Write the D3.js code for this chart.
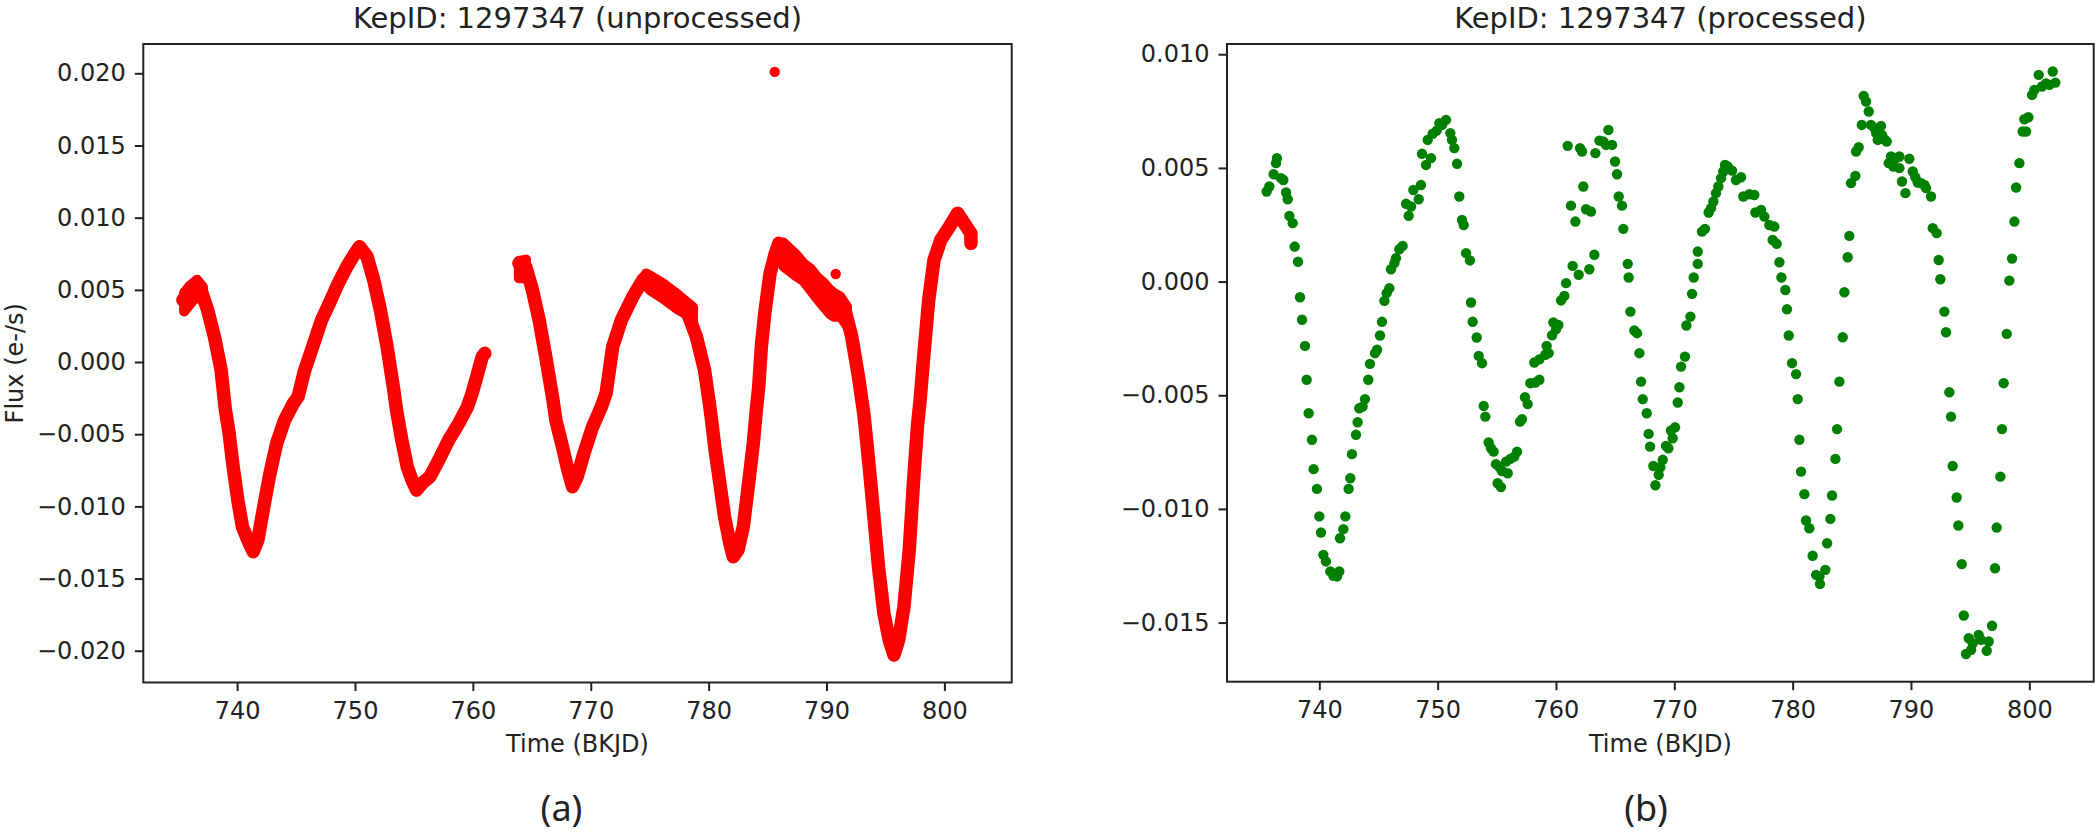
<!DOCTYPE html>
<html>
<head>
<meta charset="utf-8">
<script src="https://cdn.jsdelivr.net/npm/d3@7"></script>
<style>
  body { margin: 0; background: #fff; }
  svg text { font-family: "DejaVu Sans", sans-serif; fill: #222; }
</style>
</head>
<body>
<script>
// ---- data ----
// unprocessed light curve, traced as [time, flux] (two segments, gap ~761-764)
var rawSegA = [
  [735.40,0.00430],[735.97,0.00487],[736.54,0.00545],[736.93,0.00499],[737.50,0.00360],
  [738.07,0.00176],[738.64,-0.00055],[739.00,-0.00330],[739.30,-0.00480],[739.66,-0.00725],
  [740.06,-0.00956],[740.45,-0.01141],[741.02,-0.01256],[741.36,-0.01314],[741.76,-0.01233],
  [742.21,-0.01025],[742.73,-0.00794],[743.35,-0.00564],[744.03,-0.00402],[744.77,-0.00286],
  [745.17,-0.00240],[745.74,-0.00055],[746.31,0.00083],[747.16,0.00291],[747.89,0.00418],
  [748.58,0.00545],[749.31,0.00661],[750.00,0.00753],[750.39,0.00799],[751.02,0.00730],
  [751.59,0.00568],[752.15,0.00360],[752.72,0.00106],[753.29,-0.00194],[753.52,-0.00333],
  [753.97,-0.00540],[754.43,-0.00725],[754.83,-0.00817],[755.22,-0.00887],[755.68,-0.00841],
  [756.36,-0.00794],[757.10,-0.00679],[757.95,-0.00540],[758.80,-0.00425],[759.54,-0.00310],
  [759.93,-0.00217],[760.33,-0.00101],[760.79,0.00037],[761.01,0.00060]
];
var rawSegB = [
  [763.91,0.00684],[764.48,0.00661],[765.05,0.00499],[765.62,0.00291],[766.18,0.00037],
  [766.75,-0.00240],[767.04,-0.00402],[767.60,-0.00587],[768.06,-0.00748],[768.45,-0.00864],
  [768.85,-0.00794],[769.42,-0.00633],[770.16,-0.00448],[770.90,-0.00310],[771.30,-0.00217],
  [771.86,0.00106],[772.60,0.00291],[773.57,0.00453],[774.42,0.00568],[774.70,0.00591],
  [775.56,0.00522],[776.41,0.00476],[777.26,0.00407],[778.11,0.00360],[778.96,0.00176],
  [779.65,-0.00055],[780.10,-0.00309],[780.21,-0.00379],[780.55,-0.00610],[780.95,-0.00841],
  [781.35,-0.01072],[781.80,-0.01256],[782.09,-0.01349],[782.49,-0.01302],[782.94,-0.01141],
  [783.39,-0.00841],[783.79,-0.00564],[784.07,-0.00310],[784.25,-0.00171],[784.47,0.00106],
  [784.76,0.00337],[785.21,0.00614],[785.66,0.00753],[785.95,0.00822],[786.63,0.00730],
  [787.48,0.00661],[788.34,0.00591],[789.19,0.00499],[790.04,0.00407],[790.89,0.00407],
  [791.57,0.00360],[792.14,0.00176],[792.71,-0.00101],[793.16,-0.00356],[793.28,-0.00448],
  [793.62,-0.00725],[794.02,-0.01072],[794.41,-0.01418],[794.87,-0.01741],[795.32,-0.01926],
  [795.72,-0.02030],[796.12,-0.01926],[796.57,-0.01695],[797.02,-0.01302],[797.37,-0.00841],
  [797.71,-0.00448],[797.94,-0.00263],[798.27,0.00060],[798.67,0.00430],[799.12,0.00707],
  [799.69,0.00845],[800.43,0.00938],[801.12,0.01030],[801.68,0.00961],[802.25,0.00891],
  [802.25,0.00822]
];
// noisy stretches where the band widens: [time, lower flux, upper flux]
var rawSpreadA = [
  [735.50,0.00350,0.00480],[736.00,0.00400,0.00530],[736.60,0.00460,0.00570],[737.10,0.00420,0.00520]
];
var rawSpreadB = [
  [763.90,0.00580,0.00700],[764.50,0.00580,0.00710]
];
var rawSpreadC = [
  [774.70,0.00530,0.00614],[775.00,0.00499,0.00600],[776.12,0.00440,0.00545],
  [777.26,0.00370,0.00476],[778.11,0.00330,0.00418],[778.68,0.00291,0.00380]
];
var rawSpreadD = [
  [786.35,0.00661,0.00828],[787.48,0.00591,0.00740],[788.05,0.00560,0.00684],
  [788.62,0.00499,0.00650],[789.19,0.00440,0.00591],[789.76,0.00383,0.00550],
  [790.32,0.00330,0.00499],[790.61,0.00314,0.00480],[791.18,0.00314,0.00453],
  [791.74,0.00250,0.00383]
];
// loose points off the main band
var rawOutliers = [[785.61,0.02010],[790.78,0.00610]];

// processed (binned) light curve, [time, flux]
var procPoints = [
  [735.55,0.00396],[735.78,0.00418],[736.14,0.00472],[736.34,0.00521],[736.42,0.00543],
  [736.76,0.00455],[736.96,0.00447],[737.19,0.00392],[737.33,0.00362],[737.47,0.00289],
  [737.75,0.00257],[737.92,0.00154],[738.20,0.00087],[738.37,-0.00069],[738.54,-0.00168],
  [738.79,-0.00283],[738.93,-0.00432],[739.10,-0.00579],[739.38,-0.00696],[739.52,-0.00825],
  [739.80,-0.00912],[740.00,-0.01033],[740.14,-0.01104],[740.34,-0.01202],[740.56,-0.01231],
  [740.93,-0.01275],[741.19,-0.01294],[741.50,-0.01297],[741.69,-0.01275],[741.75,-0.01129],
  [742.03,-0.01089],[742.20,-0.01033],[742.48,-0.00912],[742.62,-0.00865],[742.76,-0.00759],
  [743.10,-0.00674],[743.24,-0.00619],[743.38,-0.00557],[743.66,-0.00550],[743.86,-0.00517],
  [744.14,-0.00432],[744.28,-0.00362],[744.71,-0.00315],[744.88,-0.00300],[745.13,-0.00237],
  [745.30,-0.00177],[745.50,-0.00085],[745.69,-0.00051],[745.92,-0.00029],[746.06,0.00054],
  [746.34,0.00081],[746.48,0.00103],[746.76,0.00142],[747.04,0.00157],[747.55,0.00289],
  [747.33,0.00342],[747.75,0.00330],[747.95,0.00403],[748.40,0.00362],[748.59,0.00425],
  [748.68,0.00562],[749.02,0.00513],[749.44,0.00543],[749.16,0.00623],[749.58,0.00650],
  [749.92,0.00664],[750.14,0.00697],[750.37,0.00689],[750.71,0.00711],[751.07,0.00653],
  [751.21,0.00623],[751.41,0.00587],[751.64,0.00518],[751.83,0.00374],[752.06,0.00271],
  [752.20,0.00249],[752.40,0.00125],[752.73,0.00093],[752.82,-0.00092],[752.96,-0.00177],
  [753.30,-0.00246],[753.47,-0.00327],[753.75,-0.00359],[753.89,-0.00547],[754.03,-0.00594],
  [754.31,-0.00708],[754.51,-0.00733],[754.73,-0.00748],[754.93,-0.00803],[755.21,-0.00816],
  [755.44,-0.00833],[755.92,-0.00843],[755.78,-0.00792],[756.14,-0.00780],[756.48,-0.00770],
  [755.07,-0.00887],[755.35,-0.00904],[756.71,-0.00748],[756.96,-0.00616],[757.13,-0.00605],
  [757.38,-0.00509],[757.61,-0.00539],[757.83,-0.00447],[758.26,-0.00444],[758.60,-0.00432],
  [758.17,-0.00356],[758.60,-0.00342],[759.10,-0.00322],[759.38,-0.00315],[759.21,-0.00283],
  [759.67,-0.00236],[759.78,-0.00180],[760.20,-0.00191],[760.00,-0.00210],[760.43,-0.00083],
  [760.71,-0.00063],[760.85,-0.00007],[761.41,0.00069],[761.92,0.00030],[762.82,0.00054],
  [763.24,0.00118],[761.27,0.00334],[761.64,0.00264],[762.54,0.00318],[762.96,0.00308],
  [762.31,0.00418],[760.99,0.00597],[762.03,0.00587],[762.20,0.00572],[763.33,0.00565],
  [763.67,0.00620],[764.00,0.00616],[764.23,0.00601],[764.74,0.00601],[764.43,0.00667],
  [764.99,0.00528],[765.16,0.00472],[765.30,0.00374],[765.58,0.00334],[765.69,0.00232],
  [766.06,0.00078],[766.14,0.00018],[766.29,-0.00132],[766.62,-0.00215],[766.85,-0.00227],
  [767.05,-0.00315],[767.19,-0.00440],[767.33,-0.00517],[767.67,-0.00579],[767.83,-0.00670],
  [767.95,-0.00726],[768.23,-0.00811],[768.40,-0.00896],[768.68,-0.00850],[768.82,-0.00817],
  [769.02,-0.00784],[769.30,-0.00723],[769.50,-0.00733],[769.86,-0.00689],[769.72,-0.00655],
  [770.06,-0.00641],[770.29,-0.00532],[770.43,-0.00465],[770.57,-0.00374],[770.90,-0.00330],
  [771.02,-0.00193],[771.36,-0.00154],[771.50,-0.00054],[771.64,0.00018],[771.98,0.00078],
  [771.98,0.00132],[772.34,0.00220],[772.59,0.00232],[772.90,0.00304],[773.10,0.00323],
  [773.30,0.00352],[773.52,0.00389],[773.72,0.00418],[773.95,0.00455],[774.14,0.00484],
  [774.29,0.00513],[774.51,0.00506],[774.88,0.00488],[775.21,0.00447],[775.64,0.00459],
  [775.83,0.00374],[776.34,0.00384],[776.76,0.00381],[776.85,0.00304],[777.33,0.00315],
  [777.61,0.00286],[778.03,0.00249],[778.45,0.00242],[778.31,0.00183],[778.65,0.00166],
  [778.88,0.00085],[779.05,0.00018],[779.38,-0.00037],[779.52,-0.00122],[779.67,-0.00237],
  [779.95,-0.00359],[780.29,-0.00407],[780.43,-0.00517],[780.57,-0.00696],[780.71,-0.00836],
  [780.99,-0.00935],[781.13,-0.01051],[781.41,-0.01085],[781.69,-0.01206],[781.98,-0.01290],
  [782.26,-0.01297],[782.31,-0.01330],[782.76,-0.01268],[782.91,-0.01151],[783.19,-0.01044],
  [783.33,-0.00941],[783.61,-0.00780],[783.75,-0.00649],[783.95,-0.00440],[784.23,-0.00245],
  [784.37,-0.00047],[784.65,0.00107],[784.79,0.00201],[784.93,0.00433],[785.30,0.00465],
  [785.36,0.00572],[785.58,0.00591],[785.84,0.00689],[786.00,0.00817],[786.20,0.00792],
  [786.43,0.00748],[786.62,0.00689],[786.91,0.00675],[787.05,0.00653],[787.19,0.00623],
  [787.47,0.00685],[787.55,0.00645],[787.75,0.00626],[787.95,0.00616],[788.12,0.00521],
  [788.31,0.00550],[788.51,0.00506],[788.74,0.00543],[789.02,0.00499],[789.02,0.00550],
  [789.24,0.00440],[789.53,0.00389],[789.86,0.00540],[790.15,0.00484],[790.37,0.00459],
  [790.57,0.00436],[790.85,0.00433],[791.13,0.00425],[791.27,0.00411],[791.69,0.00374],
  [791.84,0.00235],[792.17,0.00213],[792.34,0.00095],[792.48,0.00010],[792.82,-0.00132],
  [792.96,-0.00223],[793.24,-0.00487],[793.38,-0.00594],[793.52,-0.00811],[793.86,-0.00950],
  [794.00,-0.01073],[794.29,-0.01243],[794.46,-0.01469],[794.88,-0.01569],[795.22,-0.01591],
  [795.72,-0.01554],[795.92,-0.01576],[794.65,-0.01638],[795.08,-0.01620],[796.40,-0.01624],
  [796.57,-0.01583],[796.85,-0.01514],[797.10,-0.01261],[797.24,-0.01082],[797.55,-0.00858],
  [797.69,-0.00649],[797.83,-0.00447],[798.09,-0.00230],[798.31,0.00004],[798.54,0.00101],
  [798.74,0.00264],[798.88,0.00414],[799.16,0.00521],[799.44,0.00660],[799.72,0.00660],
  [799.58,0.00714],[799.92,0.00723],[800.23,0.00821],[800.43,0.00843],[800.79,0.00909],
  [801.07,0.00858],[801.41,0.00872],[801.69,0.00865],[801.98,0.00924],[802.20,0.00875]
];

var xTicks = [740, 750, 760, 770, 780, 790, 800];
var rawYTicks = [-0.020, -0.015, -0.010, -0.005, 0.000, 0.005, 0.010, 0.015, 0.020];
var procYTicks = [-0.015, -0.010, -0.005, 0.000, 0.005, 0.010];

var w = 2100;
var h = 832;

var svg = d3.select("body")
            .append("svg")
            .attr("width", w)
            .attr("height", h);

svg.append("rect").attr("width", w).attr("height", h).attr("fill", "#fff");

var fmt = d3.format(".3f");

function panel(box, xDom, yDom, yTicks, title, caption, capX) {
  var x = d3.scaleLinear().domain(xDom).range([box.left, box.right]);
  var y = d3.scaleLinear().domain(yDom).range([box.bottom, box.top]);

  var gx = svg.append("g")
      .attr("transform", "translate(0," + box.bottom + ")")
      .call(d3.axisBottom(x).tickValues(xTicks).tickSize(8.5).tickPadding(10.5));
  var gy = svg.append("g")
      .attr("transform", "translate(" + box.left + ",0)")
      .call(d3.axisLeft(y).tickValues(yTicks).tickFormat(fmt).tickSize(8.5).tickPadding(9));

  [gx, gy].forEach(function(g) {
    g.select(".domain").remove();
    g.selectAll(".tick line").attr("stroke", "#222").attr("stroke-width", 2);
    g.selectAll(".tick text").attr("font-size", 24).attr("font-family", "DejaVu Sans").attr("fill", "#222");
  });

  svg.append("text")
     .attr("x", (box.left + box.right) / 2)
     .attr("y", 28)
     .attr("text-anchor", "middle")
     .attr("font-size", 29)
     .text(title);

  svg.append("text")
     .attr("x", (box.left + box.right) / 2)
     .attr("y", 752)
     .attr("text-anchor", "middle")
     .attr("font-size", 24)
     .text("Time (BKJD)");

  svg.append("text")
     .attr("x", capX)
     .attr("y", 821)
     .attr("text-anchor", "middle")
     .attr("font-size", 36)
     .style("font-family", "'Noto Sans', sans-serif")
     .text(caption);

  return { x: x, y: y, box: box };
}

function frame(p) {
  svg.append("rect")
     .attr("x", p.box.left).attr("y", p.box.top)
     .attr("width", p.box.right - p.box.left)
     .attr("height", p.box.bottom - p.box.top)
     .attr("fill", "none")
     .attr("stroke", "#222")
     .attr("stroke-width", 2);
}

// left: unprocessed
var pa = panel({ left: 143.3, right: 1011.7, top: 44, bottom: 682.5 },
               [732.04, 805.71], [-0.0222, 0.02203], rawYTicks,
               "KepID: 1297347 (unprocessed)", "(a)", 561.5);

var line = d3.line().x(d => pa.x(d[0])).y(d => pa.y(d[1]));
var area = d3.area().x(d => pa.x(d[0])).y0(d => pa.y(d[1])).y1(d => pa.y(d[2]));

svg.selectAll("path.band")
   .data([rawSegA, rawSegB])
   .enter()
   .append("path")
   .attr("class", "band")
   .attr("d", line)
   .attr("fill", "none")
   .attr("stroke", "#ff0000")
   .attr("stroke-width", 13.5)
   .attr("stroke-linejoin", "round")
   .attr("stroke-linecap", "round");

svg.selectAll("path.spread")
   .data([rawSpreadA, rawSpreadB, rawSpreadC, rawSpreadD])
   .enter()
   .append("path")
   .attr("class", "spread")
   .attr("d", area)
   .attr("fill", "#ff0000")
   .attr("stroke", "#ff0000")
   .attr("stroke-width", 10)
   .attr("stroke-linejoin", "round");

svg.selectAll("circle.raw")
   .data(rawOutliers)
   .enter()
   .append("circle")
   .attr("class", "raw")
   .attr("cx", d => pa.x(d[0]))
   .attr("cy", d => pa.y(d[1]))
   .attr("r", 5.2)
   .attr("fill", "#ff0000");

frame(pa);

svg.append("text")
   .attr("transform", "translate(22.5," + ((pa.box.top + pa.box.bottom) / 2) + ") rotate(-90)")
   .attr("text-anchor", "middle")
   .attr("font-size", 24)
   .text("Flux (e-/s)");

// right: processed
var pb = panel({ left: 1227, right: 2093.7, top: 44, bottom: 681.7 },
               [732.2, 805.44], [-0.0176, 0.01045], procYTicks,
               "KepID: 1297347 (processed)", "(b)", 1646);

svg.selectAll("circle.proc")
   .data(procPoints)
   .enter()
   .append("circle")
   .attr("class", "proc")
   .attr("cx", d => pb.x(d[0]))
   .attr("cy", d => pb.y(d[1]))
   .attr("r", 5.2)
   .attr("fill", "#008000");

frame(pb);
</script>
</body>
</html>
